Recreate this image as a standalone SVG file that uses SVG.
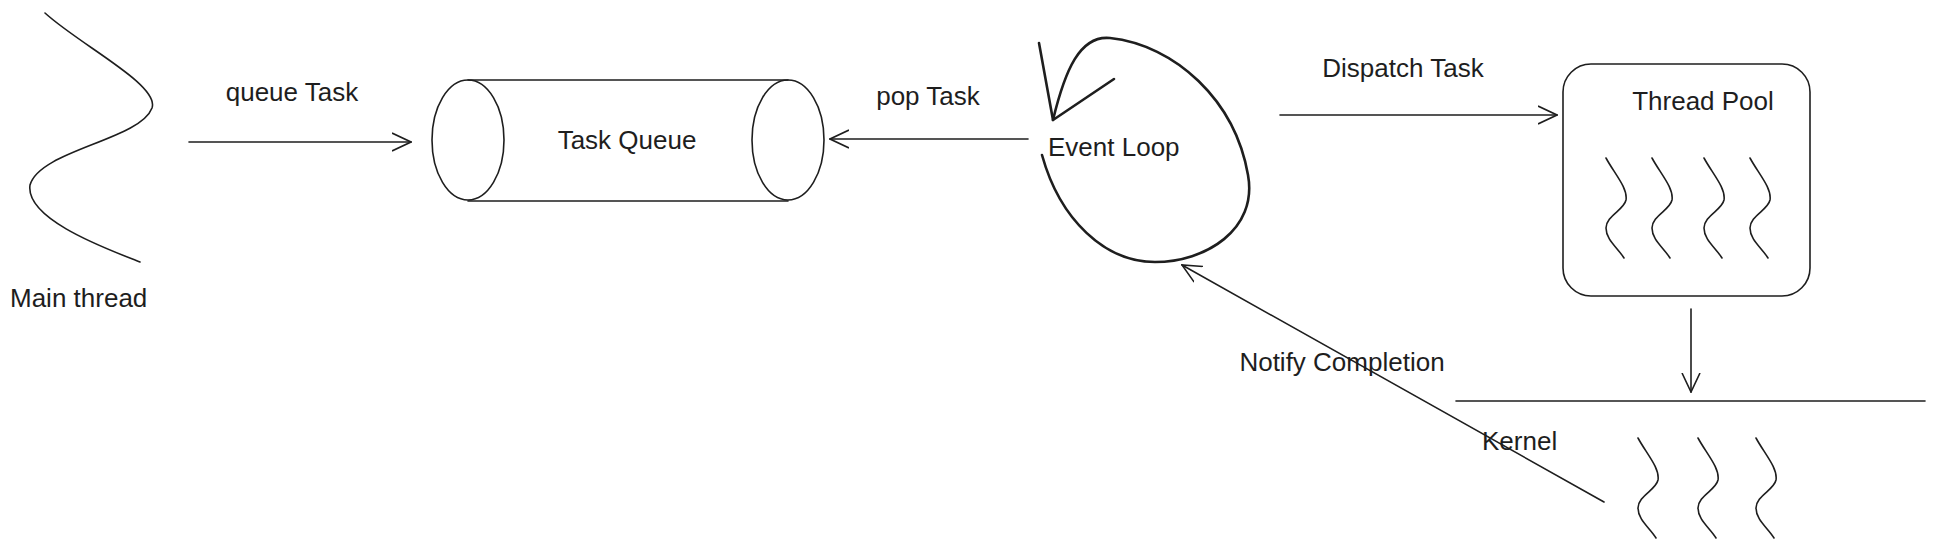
<svg xmlns="http://www.w3.org/2000/svg" width="1935" height="544" viewBox="0 0 1935 544">
<defs>
<style>
.s{fill:none;stroke:#1e1e1e;stroke-width:1.6;stroke-linecap:round;stroke-linejoin:round}
.b{stroke-width:2.6}
.t{font-family:"Liberation Sans",Arial,sans-serif;font-size:26px;fill:#1e1e1e}
</style>
<marker id="ah" viewBox="0 0 20 20" refX="19" refY="10" markerWidth="20" markerHeight="20" markerUnits="userSpaceOnUse" orient="auto">
<path d="M0,1 L19,10 L0,19" fill="none" stroke="#1e1e1e" stroke-width="1.6"/>
</marker>
<path id="w" d="M0,0 C8,15 22,30 20,42 C18,52 0,58 0,70 C0,82 12,90 18,100"/>
</defs>
<rect width="1935" height="544" fill="#fff"/>
<g id="main-thread">
<path class="s" d="M45,13 C80,45 160,85 152,108 C140,140 40,150 30,185 C25,220 110,250 140,262"/>
<text class="t" x="10" y="307">Main thread</text>
</g>
<g id="task-queue">
<path class="s" d="M468,80 L788,80 M468,201 L788,201"/>
<ellipse class="s" cx="468" cy="140" rx="36" ry="60"/>
<ellipse class="s" cx="788" cy="140" rx="36" ry="60"/>
<text class="t" x="627" y="149" text-anchor="middle">Task Queue</text>
</g>
<g id="event-loop">
<path class="s b" d="M1053,120 C1065,70 1080,35 1110,38 C1175,45 1235,100 1248,175 C1258,230 1205,262 1155,262 C1105,262 1060,220 1042,155"/>
<path class="s b" d="M1039,43 L1053,120 L1114,79"/>
<text class="t" x="1048" y="156">Event Loop</text>
</g>
<g id="thread-pool">
<rect class="s" x="1563" y="64" width="247" height="232" rx="28"/>
<text class="t" x="1703" y="110" text-anchor="middle">Thread Pool</text>
<g class="s">
<use href="#w" x="1606" y="158"/><use href="#w" x="1652" y="158"/><use href="#w" x="1704" y="158"/><use href="#w" x="1750" y="158"/>
</g>
</g>
<g id="kernel">
<path class="s" d="M1456,401 L1925,401"/>
<text class="t" x="1482" y="450">Kernel</text>
<g class="s">
<use href="#w" x="1638" y="438"/><use href="#w" x="1698" y="438"/><use href="#w" x="1756" y="438"/>
</g>
</g>
<g id="connectors">
<path class="s" d="M189,142 L411,142" marker-end="url(#ah)"/>
<path class="s" d="M1028,139 L830,139" marker-end="url(#ah)"/>
<path class="s" d="M1280,115 L1557,115" marker-end="url(#ah)"/>
<path class="s" d="M1691,309 L1691,392" marker-end="url(#ah)"/>
<path class="s" d="M1604,502 L1182,265" marker-end="url(#ah)"/>
<text class="t" x="292" y="101" text-anchor="middle">queue Task</text>
<text class="t" x="928" y="105" text-anchor="middle">pop Task</text>
<text class="t" x="1403" y="77" text-anchor="middle">Dispatch Task</text>
<text class="t" x="1342" y="371" text-anchor="middle">Notify Completion</text>
</g>
</svg>
